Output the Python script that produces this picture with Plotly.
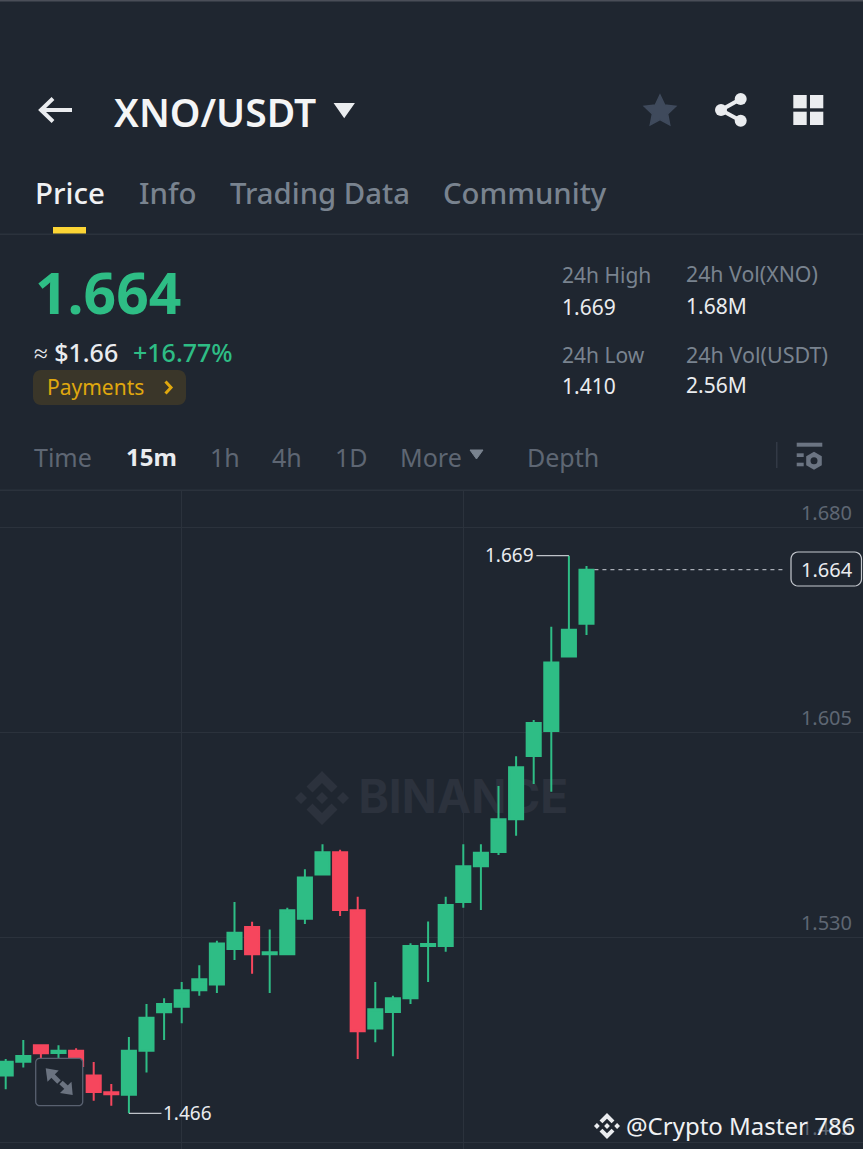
import math
import plotly.graph_objects as go

W, H = 863, 1149

# candles, oldest first
OPEN = [1.4793, 1.4844, 1.4904, 1.4876, 1.4884, 1.4793, 1.4732, 1.4723, 1.4884, 1.5025, 1.5045, 1.5105,
        1.5126, 1.5256, 1.5337, 1.5237, 1.5237, 1.5367, 1.5529, 1.5610, 1.5398, 1.4965, 1.5026, 1.5076,
        1.5267, 1.5267, 1.5428, 1.5559, 1.5611, 1.5731, 1.5962, 1.6054, 1.6326, 1.6446]
HIGH = [1.4854, 1.4923, 1.4904, 1.4904, 1.4893, 1.4843, 1.4762, 1.4934, 1.5055, 1.5076, 1.5135, 1.5197,
        1.5286, 1.5428, 1.5356, 1.5327, 1.5407, 1.5548, 1.5639, 1.5619, 1.5447, 1.5135, 1.5085, 1.5277,
        1.5357, 1.5447, 1.5639, 1.5639, 1.5852, 1.5961, 1.6094, 1.6435, 1.6695, 1.6657]
LOW = [1.4743, 1.4823, 1.4854, 1.4850, 1.4821, 1.4701, 1.4683, 1.4655, 1.4804, 1.4923, 1.4984, 1.5085,
       1.5095, 1.5216, 1.5166, 1.5095, 1.5237, 1.5348, 1.5529, 1.5377, 1.4854, 1.4915, 1.4864, 1.5055,
       1.5135, 1.5246, 1.5407, 1.5399, 1.5600, 1.5670, 1.5860, 1.5831, 1.6326, 1.6405]
CLOSE = [1.4844, 1.4865, 1.4875, 1.4884, 1.4828, 1.4733, 1.4725, 1.4884, 1.5005, 1.5055, 1.5105, 1.5145,
         1.5276, 1.5316, 1.5237, 1.5244, 1.5398, 1.5518, 1.5610, 1.5399, 1.4955, 1.5036, 1.5076, 1.5267,
         1.5274, 1.5417, 1.5559, 1.5608, 1.5731, 1.5921, 1.6083, 1.6304, 1.6424, 1.6644]
PRICE_TICKS = [1.680, 1.605, 1.530, 1.455]
TIME_TICKS = [10, 26]

BG = "#1F2630"
LINE = "#2B323C"
UP = "#2EBD85"
DOWN = "#F6465D"
WHITE = "#EAECEF"
GREY = "#79838F"
DIM = "#5E6673"
FONT = "Noto Sans"

# chart area in page pixels
CHART_TOP = 490
X0, STEP = 5.7, 17.6
PX_PER_PRICE = 205 / 0.075


def px(x):
    return x / W


def py(y):
    return 1 - y / H


def to_price(y):
    return PRICE_TICKS[0] - (y - 527) / PX_PER_PRICE


def to_index(x):
    return (x - X0) / STEP


def label(x, y, text, size, color=WHITE, anchor="left", weight=400):
    return dict(x=px(x), y=py(y), xref="paper", yref="paper", text=text, showarrow=False,
                xanchor=anchor, yanchor="middle", borderpad=0,
                font=dict(family=FONT, size=size, color=color, weight=weight))


def rect(x0, y0, x1, y1, fill, layer="above"):
    return dict(type="rect", xref="paper", yref="paper", x0=px(x0), x1=px(x1), y0=py(y0), y1=py(y1),
                fillcolor=fill, line_width=0, layer=layer)


def poly(points, fill=None, stroke=None, width=0, layer="above", close=True):
    d = "M " + " L ".join(f"{px(a):.5f},{py(b):.5f}" for a, b in points) + (" Z" if close else "")
    return dict(type="path", xref="paper", yref="paper", path=d, fillcolor=fill if fill else "rgba(0,0,0,0)",
                line=dict(color=stroke if stroke else "rgba(0,0,0,0)", width=width), layer=layer)


def circle(cx, cy, r, fill):
    return dict(type="circle", xref="paper", yref="paper", x0=px(cx - r), x1=px(cx + r), y0=py(cy - r), y1=py(cy + r),
                fillcolor=fill, line_width=0, layer="above")


def round_box(x0, y0, x1, y1, r, fill, stroke=None, width=0, layer="above"):
    pts = []
    for cx, cy, start in [(x1 - r, y0 + r, -90), (x1 - r, y1 - r, 0), (x0 + r, y1 - r, 90), (x0 + r, y0 + r, 180)]:
        for k in range(7):
            a = math.radians(start + k * 15)
            pts.append((cx + r * math.cos(a), cy + r * math.sin(a)))
    return poly(pts, fill, stroke, width, layer)


def logo(cx, cy, s, color, layer):
    # s = half height of the binance mark
    u = s / 27
    out = []
    for dx in (-21, 0, 21):
        out.append(poly([(cx + (dx - 6) * u, cy), (cx + dx * u, cy - 6 * u), (cx + (dx + 6) * u, cy), (cx + dx * u, cy + 6 * u)],
                        color, layer=layer))
    for sgn in (-1, 1):
        chevron = [(0, 27), (15.5, 11.5), (9.5, 5.5), (0, 15), (-9.5, 5.5), (-15.5, 11.5)]
        out.append(poly([(cx + a * u, cy + sgn * b * u) for a, b in chevron], color, layer=layer))
    return out


shapes = [
    rect(0, 0, W, 1.5, "#4A4E58"),
    rect(0, 233.5, W, 235, LINE),
    rect(0, 489.5, W, 491, LINE),
    rect(53, 227, 86, 233.5, "#FCD535"),
    # back arrow
    poly([(72, 110), (41, 110)], stroke=WHITE, width=4, close=False),
    poly([(53, 98.5), (41, 110), (53, 121.5)], stroke=WHITE, width=4, close=False),
    # dropdowns
    poly([(335.5, 104), (353, 104), (344.2, 116.5)], WHITE, WHITE, 2),
    poly([(470, 450), (483, 450), (476.5, 459)], GREY, GREY, 1),
    # share
    poly([(740.7, 99), (721, 110), (740.7, 120.7)], stroke=WHITE, width=4, close=False),
    circle(740.7, 99, 6, WHITE), circle(740.7, 120.7, 6, WHITE), circle(721, 110, 6, WHITE),
    # grid button
    rect(793.3, 95, 806.7, 108.3, WHITE), rect(810, 95, 823.3, 108.3, WHITE),
    rect(793.3, 111.7, 806.7, 125, WHITE), rect(810, 111.7, 823.3, 125, WHITE),
    # payments pill
    round_box(33, 370, 186, 405, 8, "#3A3629"),
    poly([(165.5, 381.5), (171, 387.5), (165.5, 393.5)], stroke="#E0A80E", width=3, close=False),
    # settings icon
    rect(776, 442, 777.5, 468, "#323945"),
    rect(796.7, 442.7, 822.3, 446.7, "#6B7482"),
    rect(796.7, 453.3, 803.7, 457, "#6B7482"),
    rect(796.7, 462.7, 803.7, 466.3, "#6B7482"),
]

# star
star = []
for k in range(10):
    r = 16.5 if k % 2 == 0 else 8
    a = math.radians(-90 + k * 36)
    star.append((660 + r * math.cos(a), 111.5 + r * math.sin(a)))
shapes.append(poly(star, "#3F4A5C", "#3F4A5C", 1.5))

# settings hexagon
hexagon = [(814 + 9 * math.cos(math.radians(-90 + k * 60)), 460.7 + 9 * math.sin(math.radians(-90 + k * 60))) for k in range(6)]
shapes.append(poly(hexagon, "#6B7482"))
shapes.append(circle(814, 460.7, 3.5, BG))

# watermarks
shapes += logo(322, 798, 27, "#2C323D", "below")
shapes += logo(607, 1126, 13, WHITE, "above")

# expand button sits on top of the candles
ARROW = "#6B7380"
shapes += [
    round_box(35.7, 1058.3, 82.7, 1105.7, 4, BG, "#596170", 1.3),
    poly([(45.7, 1068.3), (58.7, 1070.5), (47.5, 1081.7)], ARROW),
    poly([(72.7, 1095), (60, 1093), (71.5, 1081.7)], ARROW),
    poly([(51, 1074), (59, 1082)], stroke=ARROW, width=5, close=False),
    poly([(67, 1088), (61, 1082.5)], stroke=ARROW, width=5, close=False),
]

# high / low / last price markers, from the data
last = len(CLOSE) - 1
hi = HIGH.index(max(HIGH))
lo = LOW.index(min(LOW))
LEADER = "#BFC3C9"
shapes += [
    dict(type="line", xref="x2", yref="y2", x0=hi - 1.85, x1=hi, y0=HIGH[hi], y1=HIGH[hi], line=dict(color=LEADER, width=1.3)),
    dict(type="line", xref="x2", yref="y2", x0=lo, x1=lo + 1.85, y0=LOW[lo], y1=LOW[lo], line=dict(color=LEADER, width=1.3)),
    dict(type="line", xref="x2", yref="y2", x0=last + 0.45, x1=to_index(785), y0=CLOSE[last], y1=CLOSE[last],
         line=dict(color="#A9AEB6", width=1.2, dash="4px,4px")),
    round_box(791, 552, 861.5, 586, 7, BG, "#C6CAD0", 1.2),
]

annotations = [
    label(112.5, 111, "XNO/USDT", 39, "#F4F5F6", weight=600),
    label(34, 192.5, "Price", 29.5, "#F0F1F3", weight=500),
    label(138, 192.5, "Info", 29.5, GREY, weight=500),
    label(229, 192.5, "Trading Data", 29.3, GREY, weight=500),
    label(442, 192.5, "Community", 29.3, GREY, weight=500),
    label(34, 292, "1.664", 57, UP, weight=700),
    label(33, 352.5, "≈ $1.66", 25, WHITE, weight=500),
    label(131.5, 352.5, "+16.77%", 25, UP, weight=500),
    label(46, 387, "Payments", 21, "#E0A80E"),
    label(561, 275, "24h High", 21, GREY),
    label(561, 306.5, "1.669", 21, WHITE),
    label(685, 274, "24h Vol(XNO)", 21.3, GREY),
    label(685, 305.5, "1.68M", 21, WHITE),
    label(561, 355, "24h Low", 21, GREY),
    label(561, 386.5, "1.410", 21, WHITE),
    label(685, 354, "24h Vol(USDT)", 21.5, GREY),
    label(685, 385.5, "2.56M", 21, WHITE),
    label(32.5, 456.5, "Time", 25, DIM),
    label(125, 456.5, "15m", 24, WHITE, weight=700),
    label(209, 456.5, "1h", 25, DIM),
    label(271, 456.5, "4h", 25, DIM),
    label(334, 456.5, "1D", 25, DIM),
    label(399, 456.5, "More", 25, DIM),
    label(526, 456.5, "Depth", 25, DIM),
    label(625, 1125.5, "@Crypto Master 786", 24, "#F0F1F3"),
    label(826.5, 569.5, f"{CLOSE[last]:.3f}", 20, WHITE, anchor="center"),
    dict(x=hi - 1.85, y=HIGH[hi], xref="x2", yref="y2", yshift=1, text="1.669", showarrow=False, xanchor="right", yanchor="middle",
         font=dict(family=FONT, size=19, color=WHITE)),
    dict(x=lo + 1.85, y=LOW[lo], xref="x2", yref="y2", text="1.466", showarrow=False, xanchor="left", yanchor="middle",
         font=dict(family=FONT, size=19, color=WHITE)),
]

x_range = [to_index(0), to_index(W)]
y_range = [to_price(H), to_price(CHART_TOP)]

fig = go.Figure()
# watermark lives on the base axes so the candles, on the overlay axes, cover it
fig.add_trace(go.Scatter(x=[TIME_TICKS[1]], y=[to_price(801)], mode="text", text=["BINANCE"], textposition="middle center",
                         textfont=dict(family="Inter", size=46, color="#2C323D", weight=700), hoverinfo="skip", showlegend=False))
fig.add_trace(go.Candlestick(x=list(range(len(OPEN))), open=OPEN, high=HIGH, low=LOW, close=CLOSE, xaxis="x2", yaxis="y2",
                             whiskerwidth=0, showlegend=False,
                             increasing=dict(line=dict(color=UP, width=2), fillcolor=UP),
                             decreasing=dict(line=dict(color=DOWN, width=2), fillcolor=DOWN)))

fig.update_layout(
    width=W, height=H, margin=dict(l=0, r=0, t=0, b=0), paper_bgcolor=BG, plot_bgcolor=BG,
    showlegend=False, boxgap=0.2, boxgroupgap=0, shapes=shapes, annotations=annotations,
    xaxis=dict(domain=[0, 1], range=x_range, tickvals=TIME_TICKS, showticklabels=False, ticks="", showgrid=True,
               gridcolor=LINE, gridwidth=1.3, zeroline=False, showline=False, rangeslider=dict(visible=False)),
    yaxis=dict(domain=[0, py(CHART_TOP)], range=y_range, side="right", tickvals=PRICE_TICKS, tickformat=".3f",
               ticklabelposition="inside top", ticklabelstandoff=8, ticks="", showgrid=True, gridcolor=LINE, gridwidth=1.3,
               zeroline=False, showline=False, tickfont=dict(family=FONT, size=20, color=DIM)),
    xaxis2=dict(overlaying="x", anchor="y2", range=x_range, visible=False, rangeslider=dict(visible=False)),
    yaxis2=dict(overlaying="y", anchor="x2", range=y_range, visible=False),
)

fig.write_html("out.html", post_script="document.body.style.margin='0';document.body.style.background='%s';" % BG,
               config=dict(displayModeBar=False))
